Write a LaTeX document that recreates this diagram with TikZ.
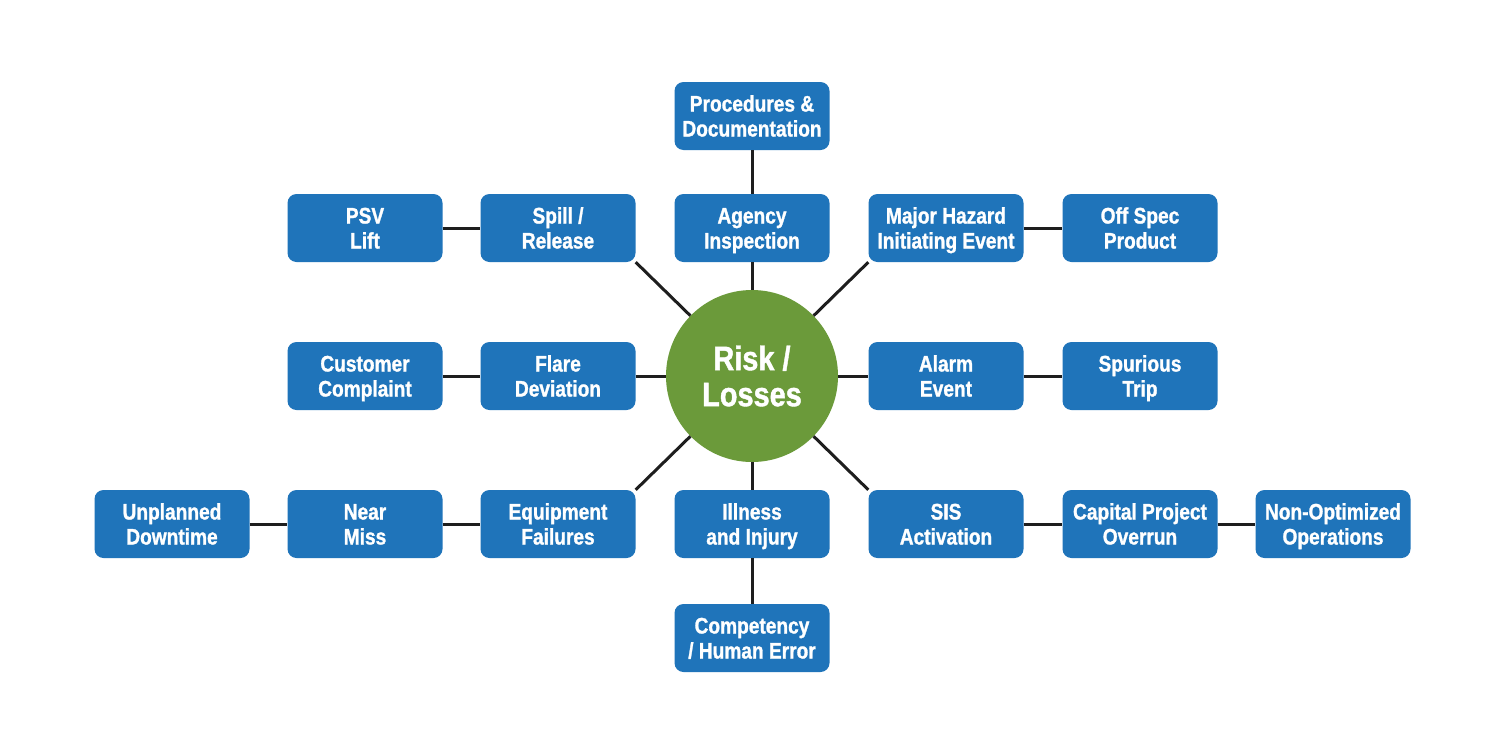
\documentclass[tikz,border=0pt]{standalone}
\usepackage{fontspec}
\setmainfont[FakeStretch=0.85,FakeBold=1.2]{Liberation Sans}
\definecolor{boxblue}{HTML}{1F74BA}
\definecolor{riskgreen}{HTML}{6B9A3A}
\definecolor{linedark}{HTML}{1E1E1E}
\begin{document}
\begin{tikzpicture}[x=1pt,y=-1pt,
  item/.style={rectangle,rounded corners=9pt,fill=boxblue,text=white,
    minimum width=155pt,minimum height=68pt,inner sep=0pt,align=center,
    text height=41pt,text depth=0pt,
    font=\bfseries\fontsize{22.5}{25}\selectfont},
  hub/.style={circle,fill=riskgreen,text=white,minimum size=172pt,inner sep=0pt,
    align=center,font=\bfseries\fontsize{34}{36}\selectfont},
  link/.style={draw=linedark,line width=3pt}]
\useasboundingbox (0,0) rectangle (1500,750);
\fill[white] (0,0) rectangle (1500,750);
\node[hub] (risk) at (752,376) {Risk /\\Losses};
\node[item] (proc) at (752,116) {Procedures \&\\Documentation};
\node[item] (psv) at (365,228) {PSV\\Lift};
\node[item] (spill) at (558,228) {Spill /\\Release};
\node[item] (agency) at (752,228) {Agency\\Inspection};
\node[item] (major) at (946,228) {Major Hazard\\Initiating Event};
\node[item] (offspec) at (1140,228) {Off Spec\\Product};
\node[item] (cust) at (365,376) {Customer\\Complaint};
\node[item] (flare) at (558,376) {Flare\\Deviation};
\node[item] (alarm) at (946,376) {Alarm\\Event};
\node[item] (spur) at (1140,376) {Spurious\\Trip};
\node[item] (unpl) at (172,524) {Unplanned\\Downtime};
\node[item] (near) at (365,524) {Near\\Miss};
\node[item] (equip) at (558,524) {Equipment\\Failures};
\node[item] (ill) at (752,524) {Illness\\and Injury};
\node[item] (sis) at (946,524) {SIS\\Activation};
\node[item] (cap) at (1140,524) {Capital Project\\Overrun};
\node[item] (nonopt) at (1333,524) {Non-Optimized\\Operations};
\node[item] (comp) at (752,638) {Competency\\/ Human Error};
\draw[link] (proc) -- (agency);
\draw[link] (agency) -- (risk);
\draw[link] (psv) -- (spill);
\draw[link] (spill.south east) -- (risk);
\draw[link] (major.south west) -- (risk);
\draw[link] (major) -- (offspec);
\draw[link] (cust) -- (flare);
\draw[link] (flare) -- (risk);
\draw[link] (risk) -- (alarm);
\draw[link] (alarm) -- (spur);
\draw[link] (unpl) -- (near);
\draw[link] (near) -- (equip);
\draw[link] (equip.north east) -- (risk);
\draw[link] (risk) -- (ill);
\draw[link] (ill) -- (comp);
\draw[link] (sis.north west) -- (risk);
\draw[link] (sis) -- (cap);
\draw[link] (cap) -- (nonopt);
\end{tikzpicture}
\end{document}
